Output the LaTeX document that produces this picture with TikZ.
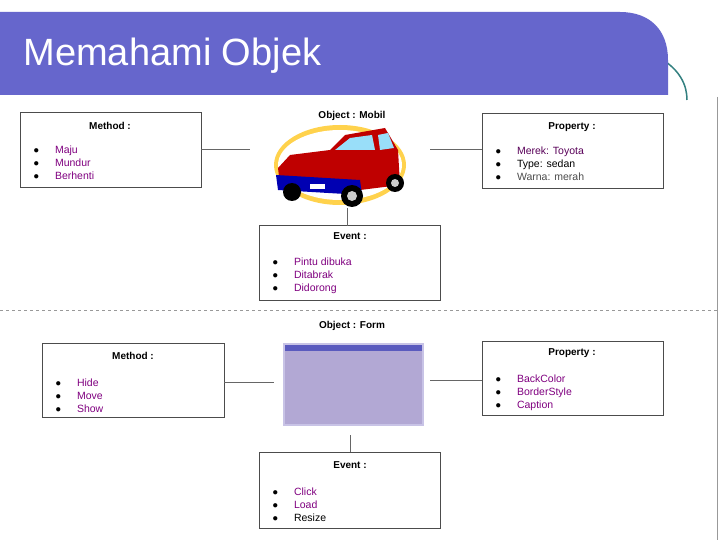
\documentclass[tikz,border=0pt]{standalone}
\usepackage{fontspec}
\setmainfont{Liberation Sans}
\definecolor{hdr}{RGB}{102,102,204}
\definecolor{formbg}{RGB}{178,168,212}
\definecolor{formbar}{RGB}{90,90,190}
\definecolor{formedge}{RGB}{200,195,230}
\newcommand{\bul}{$\bullet$\hspace{16pt}}
\begin{document}
\begin{tikzpicture}[x=1pt,y=-1pt,
  box/.style={draw=black!70,line width=1pt,fill=white},
  ttl/.style={font=\bfseries\fontsize{10}{12}\selectfont},
  itm/.style={font=\fontsize{10.5}{13}\selectfont,align=left,anchor=north west},
  conn/.style={draw=black!60,line width=1pt}]
\useasboundingbox (0,0) rectangle (720,540);
\fill[white] (0,0) rectangle (720,540);
% header
\draw[teal!60!gray,line width=1.5pt] (660,58) .. controls (680,70) and (687,85) .. (687,100);
\draw[black!40] (717,97) -- (717,540);
\fill[hdr] (0,12) -- (620,12) .. controls (650,12) and (668,30) .. (668,60) -- (668,95) -- (0,95) -- cycle;
\node[anchor=west,text=white,font=\fontsize{38}{42}\selectfont] (title) at (20,56) {Memahami Objek};
% --- Mobil
\draw[box] (20,113) rectangle (201,188);
\node[ttl] (m1t) at (110,126) {Method :};
\node[itm] (m1i) at (30,142) {\bul\textcolor{violet}{Maju}\\\bul\textcolor{violet}{Mundur}\\\bul\textcolor{violet}{Berhenti}};
\draw[box] (482,114) rectangle (663,189);
\node[ttl] (p1t) at (572,127) {Property :};
\node[itm] (p1i) at (492,143) {\bul\textcolor{violet!70!black}{Merek: Toyota}\\\bul Type: sedan\\\bul\textcolor{black!70}{Warna: merah}};
\draw[box] (259,226) rectangle (440,300);
\node[ttl] (e1t) at (350,236) {Event :};
\node[itm] (e1i) at (269,254) {\bul\textcolor{violet}{Pintu dibuka}\\\bul\textcolor{violet}{Ditabrak}\\\bul\textcolor{violet}{Didorong}};
\node[ttl] (o1) at (352,116) {Object : Mobil};
% car
\fill[orange!50!yellow!70] (340,165) ellipse (66 and 40);
\fill[white] (340,165) ellipse (62 and 35);
\fill[red!75!black] (278,168) -- (290,155) -- (330,150) -- (345,135) -- (385,128) -- (398,150) -- (400,185) -- (360,190) -- (280,185) -- cycle;
\fill[cyan!40] (335,150) -- (350,138) -- (372,135) -- (375,150) -- cycle;
\fill[cyan!40] (378,135) -- (388,133) -- (394,148) -- (380,150) -- cycle;
\fill[blue!70!black] (276,175) -- (360,180) -- (362,195) -- (278,190) -- cycle;
\fill[black] (292,192) circle (9); \fill[black] (352,196) circle (11); \fill[black] (395,183) circle (9);
\fill[gray!40] (352,196) circle (5); \fill[gray!40] (395,183) circle (4);
\fill[white] (310,184) rectangle (325,189);
\draw[conn] (201,150) -- (250,150);
\draw[conn] (430,150) -- (482,150);
\draw[conn] (347,208) -- (347,226);
% dashed separator
\draw[black!40,dashed,line width=1pt] (0,310) -- (720,310);
% --- Form
\node[ttl] (o2) at (352,326) {Object : Form};
\fill[formedge] (283,343) rectangle (424,426);
\fill[formbg] (285,349) rectangle (422,424);
\fill[formbar] (285,345) rectangle (422,351);
\draw[box] (42,343) rectangle (224,417);
\node[ttl] (m2t) at (133,356) {Method :};
\node[itm] (m2i) at (52,375) {\bul\textcolor{violet}{Hide}\\\bul\textcolor{violet}{Move}\\\bul\textcolor{violet}{Show}};
\draw[box] (482,341) rectangle (663,415);
\node[ttl] (p2t) at (572,353) {Property :};
\node[itm] (p2i) at (492,371) {\bul\textcolor{violet}{BackColor}\\\bul\textcolor{violet}{BorderStyle}\\\bul\textcolor{violet}{Caption}};
\draw[box] (259,452) rectangle (440,528);
\node[ttl] (e2t) at (350,465) {Event :};
\node[itm] (e2i) at (269,484) {\bul\textcolor{violet}{Click}\\\bul\textcolor{violet}{Load}\\\bul Resize};
\draw[conn] (224,382) -- (274,382);
\draw[conn] (430,380) -- (482,380);
\draw[conn] (350,435) -- (350,452);
\end{tikzpicture}
\end{document}
